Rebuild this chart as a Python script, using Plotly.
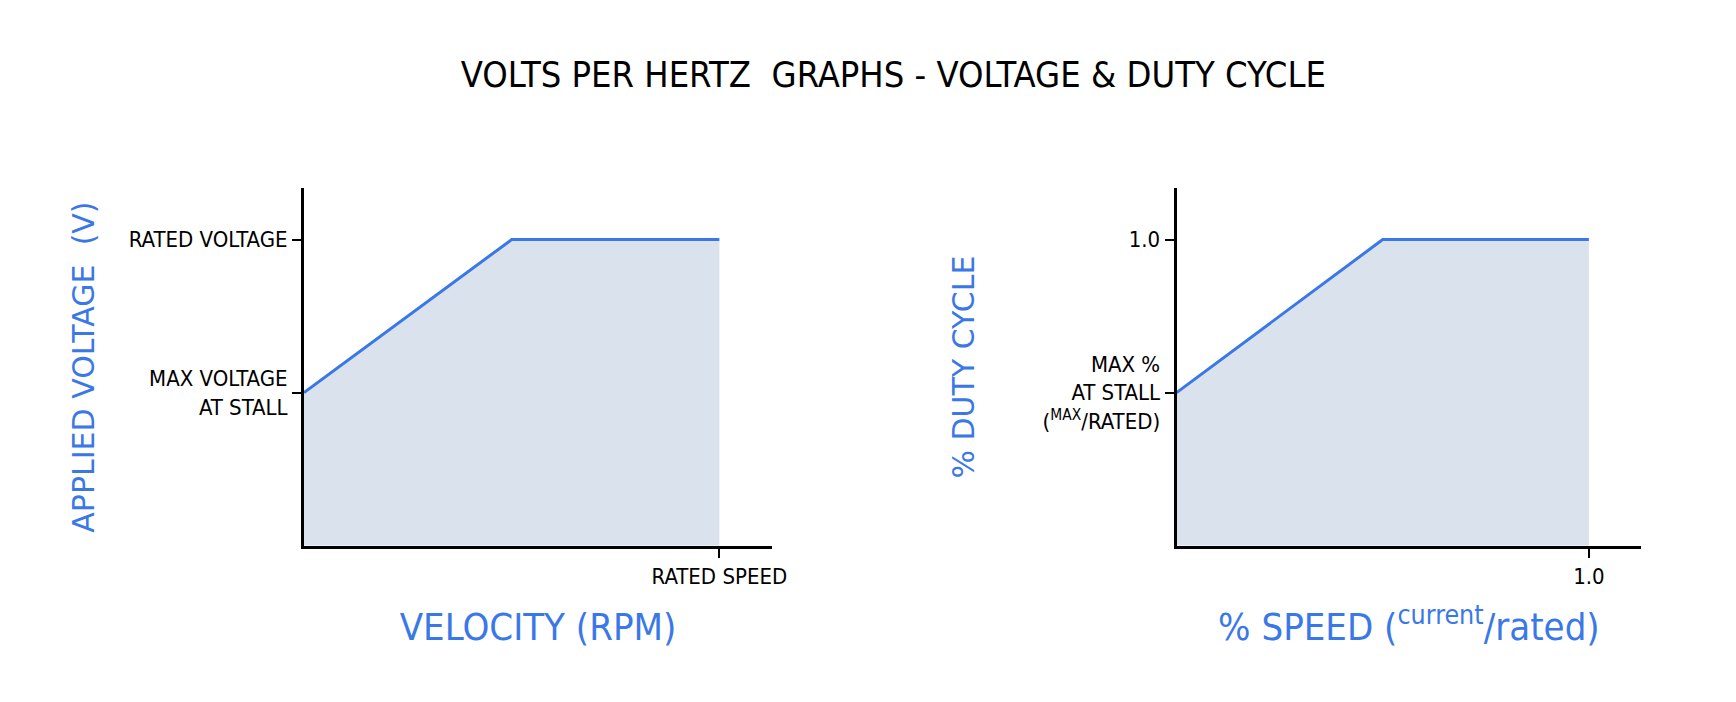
import plotly.graph_objects as go

speed = [0, 0.5, 1.0]
voltage = [0.5, 1.0, 1.0]
duty = [0.5, 1.0, 1.0]

BLUE = "#3b78e7"
FILL = "#d9e2ed"
FONT = "Liberation Sans Narrow, DejaVu Sans Condensed, sans-serif"

fig = go.Figure()
fig.add_trace(go.Scatter(x=speed, y=voltage, mode="lines", fill="tozeroy",
                         fillcolor=FILL, line=dict(color=BLUE, width=3),
                         xaxis="x", yaxis="y", showlegend=False))
fig.add_trace(go.Scatter(x=speed, y=duty, mode="lines", fill="tozeroy",
                         fillcolor=FILL, line=dict(color=BLUE, width=3),
                         xaxis="x2", yaxis="y2", showlegend=False))

ax_common = dict(showline=True, linecolor="black", linewidth=3, showgrid=False,
                 zeroline=False, ticks="outside", ticklen=9, tickwidth=2,
                 tickcolor="black", fixedrange=True,
                 tickfont=dict(family=FONT, size=22, color="black"))

fig.update_layout(
    width=1736, height=702, margin=dict(l=0, r=0, t=0, b=0),
    plot_bgcolor="white", paper_bgcolor="white",
    title=dict(text="VOLTS PER HERTZ  GRAPHS - VOLTAGE & DUTY CYCLE",
               x=0.51, xanchor="center", y=0.905, yanchor="middle",
               font=dict(family=FONT, size=36, color="black")),
    xaxis=dict(domain=[0.172, 0.444], range=[0, 1.127], tickvals=[1.0],
               ticktext=["RATED SPEED"],
               title=dict(text="VELOCITY (RPM)", standoff=26,
                          font=dict(family=FONT, size=38, color=BLUE)),
               **ax_common),
    yaxis=dict(domain=[0.234, 0.743], range=[0, 1.167], tickvals=[0.5, 1.0],
               ticktext=["MAX VOLTAGE<br>AT STALL", "RATED VOLTAGE"],
               title=dict(text="APPLIED VOLTAGE  (V)", standoff=26,
                          font=dict(family="DejaVu Sans, sans-serif", size=30, color=BLUE)),
               anchor="x", **ax_common),
    xaxis2=dict(domain=[0.679, 0.949], range=[0, 1.127], tickvals=[1.0],
                ticktext=["1.0"], anchor="y2",
                title=dict(text="% SPEED (<sup>current</sup>/rated)", standoff=26,
                           font=dict(family=FONT, size=38, color=BLUE)),
                **ax_common),
    yaxis2=dict(domain=[0.234, 0.743], range=[0, 1.167], tickvals=[0.5, 1.0],
                ticktext=["MAX %<br>AT STALL<br>(<sup>MAX</sup>/RATED)", "1.0"],
                anchor="x2",
                title=dict(text="% DUTY CYCLE", standoff=60,
                           font=dict(family="DejaVu Sans, sans-serif", size=30, color=BLUE)),
                **ax_common),
)

fig.write_html("out.html")
